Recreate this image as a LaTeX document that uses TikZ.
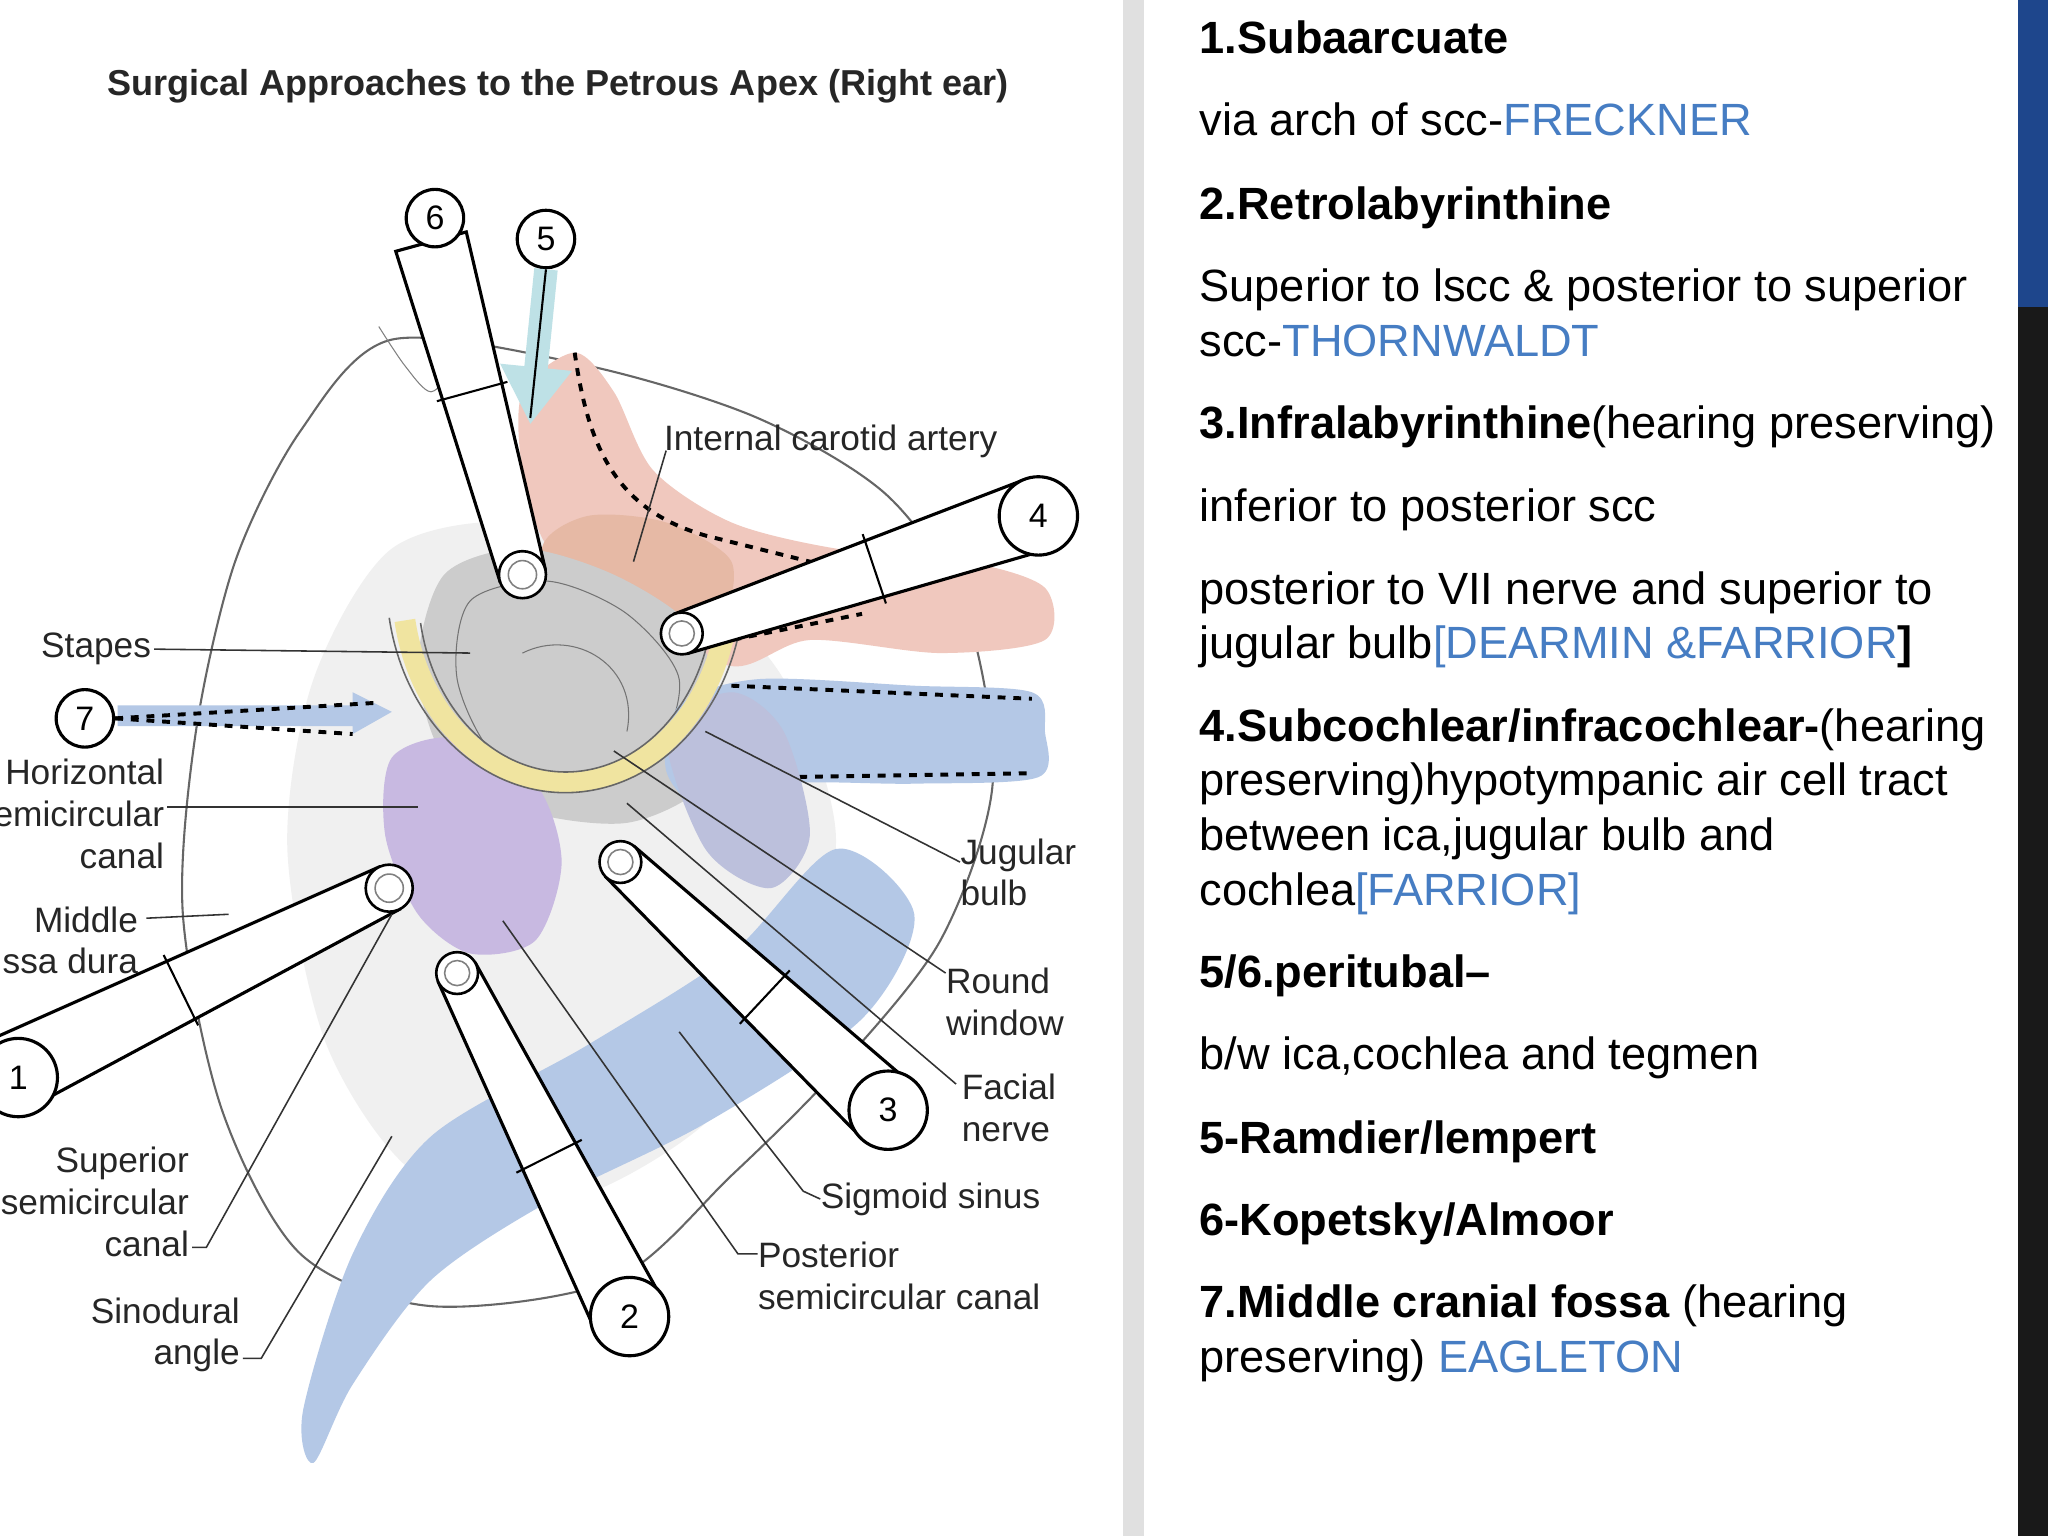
\documentclass[tikz,border=0pt]{standalone}
\usepackage{fontspec}
\setmainfont{Liberation Sans}
\usetikzlibrary{calc,arrows.meta}
\definecolor{lk}{RGB}{70,125,195}
\definecolor{pinkc}{RGB}{240,200,190}
\definecolor{lav}{RGB}{200,185,225}
\definecolor{bluec}{RGB}{180,200,230}
\definecolor{yel}{RGB}{240,228,160}
\definecolor{cyanc}{RGB}{190,225,230}
\definecolor{navy}{RGB}{30,70,140}
\tikzset{
 rt/.style={anchor=base west,font=\fontsize{17.3}{19}\selectfont,inner sep=0},
 rtb/.style={rt,font=\bfseries\fontsize{17.3}{19}\selectfont},
 lb/.style={font=\fontsize{13.5}{16}\selectfont,inner sep=1pt,text=black!85},
 num/.style={circle,draw,line width=1.2pt,fill=white,minimum size=22pt,inner sep=0,font=\fontsize{13}{14}\selectfont},
 probe/.style={draw,line width=1.2pt,fill=white},
 lead/.style={draw,line width=0.6pt,black!80},
}
\newcommand\myprobe[4]{% tip, end, halfwidth tip, halfwidth end
 \path[probe] ($(#1)!#3!90:(#2)$) -- ($(#2)!#4!-90:(#1)$) -- ($(#2)!#4!90:(#1)$) -- ($(#1)!#3!-90:(#2)$) -- cycle;
 \draw[line width=0.8pt] ($($(#1)!0.55!(#2)$)!#4!90:(#2)$) -- ($($(#1)!0.55!(#2)$)!#4!-90:(#2)$);
 \draw[line width=1pt,fill=white] (#1) circle[radius=#3];
 \draw[line width=0.6pt,black!50] (#1) circle[radius=#3*0.6];
}
\begin{document}
\begin{tikzpicture}[x=0.5pt,y=-0.5pt]
\useasboundingbox (0,0) rectangle (1568,1176);
\fill[white] (0,0) rectangle (1568,1176);
\fill[black!12] (860,0) rectangle (876,1176);
\fill[navy] (1545,0) rectangle (1568,235);
\fill[black!90] (1545,235) rectangle (1568,1176);

% title
\node[font=\bfseries\fontsize{13.8}{15}\selectfont,text=black!85] (title) at (427,66) {Surgical Approaches to the Petrous Apex (Right ear)};

% bone outline
\draw[black!60,line width=0.8pt] plot[smooth cycle] coordinates {(300,260) (230,330) (180,430) (150,560) (140,700) (170,850) (230,960) (330,1000) (470,980) (560,900) (640,820) (720,720) (760,600) (740,470) (680,380) (580,320) (450,280)};
\fill[black!6] plot[smooth cycle] coordinates {(300,420) (240,520) (220,650) (250,800) (320,900) (430,920) (540,860) (610,760) (640,640) (600,520) (520,440) (400,400)};
\draw[black!50] plot[smooth] coordinates {(290,250) (310,280) (330,300) (350,280)};
% pink ICA
\fill[pinkc] plot[smooth cycle] coordinates {(400,300) (440,270) (470,300) (500,360) (560,400) (640,420) (740,430) (800,450) (800,490) (720,500) (620,490) (560,510) (480,470) (420,420) (400,360)};
\fill[pinkc!80!brown] plot[smooth cycle] coordinates {(415,420) (450,395) (510,400) (560,430) (550,480) (500,500) (440,480)};
\draw[dashed,line width=1.5pt] (440,270) .. controls (450,340) and (470,390) .. (540,410) -- (660,440);
\draw[dashed,line width=1.5pt] (480,470) -- (560,490) -- (660,470);
% grey inner ear
\fill[black!20] plot[smooth cycle] coordinates {(340,440) (400,420) (470,440) (530,480) (550,540) (540,600) (480,630) (400,620) (340,580) (320,510)};
\draw[black!55] plot[smooth cycle] coordinates {(360,460) (420,445) (480,470) (520,520) (500,580) (440,600) (380,580) (350,520)};
\draw[black!55] (400,500) .. controls (440,480) and (490,510) .. (480,560);
% blue jugular
\fill[bluec] plot[smooth cycle] coordinates {(520,540) (580,520) (700,525) (790,530) (800,560) (795,595) (700,600) (600,600) (540,620) (510,590)};
\draw[dashed,line width=1.5pt] (560,525) -- (790,535);
\draw[dashed,line width=1.5pt] (600,595) -- (790,592);
\fill[bluec!70!blue!70!black!40] plot[smooth cycle] coordinates {(510,560) (560,530) (600,560) (620,640) (590,680) (540,650)};
% sigmoid sinus
\fill[bluec] plot[smooth cycle] coordinates {(640,650) (700,700) (660,780) (540,860) (420,920) (330,980) (270,1060) (240,1120) (232,1080) (270,960) (330,870) (450,800) (560,730)};
% lavender
\fill[lav] plot[smooth cycle] coordinates {(300,580) (350,565) (410,600) (430,660) (410,720) (360,730) (320,700) (295,640)};
% yellow arc
\draw[yel,line width=8pt] (310,475) arc[start angle=190,end angle=350,x radius=125,y radius=-150];
\draw[black!60,line width=0.6pt] (298,473) arc[start angle=190,end angle=350,x radius=137,y radius=-162];
\draw[black!60,line width=0.6pt] (322,477) arc[start angle=190,end angle=350,x radius=113,y radius=-138];

% arrow 5
\node[num] (n5) at (418,183) {5};
\draw[-{Triangle[width=26pt,length=22pt]},line width=9pt,cyanc] (n5.south) -- (406,325);
\draw[line width=0.8pt] (n5.south) -- (406,320);
% arrow 7
\node[num] (n7) at (65,550) {7};
\fill[bluec] (90,540) -- (270,540) -- (270,530) -- (300,545) -- (270,562) -- (270,556) -- (90,556) -- cycle;
\draw[dashed,line width=1.5pt] (n7.east) -- (290,538);
\draw[dashed,line width=1.5pt] (n7.east) -- (270,562);

% probes
\coordinate (t6) at (400,440); \coordinate (e6) at (330,185);
\coordinate (t4) at (522,485); \coordinate (e4) at (790,395);
\coordinate (t1) at (298,680); \coordinate (e1) at (8,822);
\coordinate (t2) at (350,745); \coordinate (e2) at (478,1000);
\coordinate (t3) at (475,660); \coordinate (e3) at (676,848);
\myprobe{t6}{e6}{9pt}{14pt}
\myprobe{t4}{e4}{8pt}{14pt}
\myprobe{t1}{e1}{9pt}{15pt}
\myprobe{t2}{e2}{8pt}{14pt}
\myprobe{t3}{e3}{8pt}{14pt}
\node[num] (n6) at (333,167) {6};
\node[num,minimum size=30pt] (n4) at (795,395) {4};
\node[num,minimum size=30pt] (n1) at (14,825) {1};
\node[num,minimum size=30pt] (n2) at (482,1008) {2};
\node[num,minimum size=30pt] (n3) at (680,850) {3};

% left labels
\node[lb,anchor=east] (stapes) at (118,497) {Stapes};
\coordinate (sp) at (360,500); \draw[lead] (stapes.east) -- (sp);
\node[lb,anchor=east,align=right] (hsc) at (128,623) {Horizontal\\emicircular\\canal};
\coordinate (hp) at (320,618); \draw[lead] (128,618) -- (hp);
\node[lb,anchor=east,align=right] (mfd) at (108,720) {Middle\\ssa dura};
\coordinate (mp) at (175,700); \draw[lead] (112,703) -- (mp);
\node[lb,anchor=east,align=right] (ssc) at (147,920) {Superior\\semicircular\\canal};
\coordinate (sscp) at (300,700); \draw[lead] (147,955) -- (158,955) -- (sscp);
\node[lb,anchor=east,align=right] (sda) at (186,1022) {Sinodural\\angle};
\coordinate (sdp) at (300,870); \draw[lead] (186,1040) -- (200,1040) -- (sdp);
% right labels
\node[lb,anchor=west] (ica) at (506,338) {Internal carotid artery};
\coordinate (icap) at (485,430); \draw[lead] (510,345) -- (icap);
\node[lb,anchor=west,align=left] (jb) at (733,668) {Jugular\\bulb};
\coordinate (jbp) at (540,560); \draw[lead] (735,660) -- (jbp);
\node[lb,anchor=west,align=left] (rw) at (722,767) {Round\\window};
\coordinate (rwp) at (470,575); \draw[lead] (724,745) -- (rwp);
\node[lb,anchor=west,align=left] (fn) at (734,848) {Facial\\nerve};
\coordinate (fnp) at (480,615); \draw[lead] (732,830) -- (fnp);
\node[lb,anchor=west] (ss) at (626,918) {Sigmoid sinus};
\coordinate (ssp) at (520,790); \draw[lead] (628,918) -- (615,912) -- (ssp);
\node[lb,anchor=west,align=left] (psc) at (578,977) {Posterior\\semicircular canal};
\coordinate (pscp) at (385,705); \draw[lead] (580,960) -- (565,960) -- (pscp);

% right text
\node[rtb] at (918,41) {1.Subaarcuate};
\node[rt] at (918,104) {via arch of scc-\textcolor{lk}{FRECKNER}};
\node[rtb] at (918,168) {2.Retrolabyrinthine};
\node[rt] at (918,231) {Superior to lscc \& posterior to superior};
\node[rt] at (918,273) {scc-\textcolor{lk}{THORNWALDT}};
\node[rt] at (918,336) {\textbf{3.Infralabyrinthine}(hearing preserving)};
\node[rt] at (918,399) {inferior to posterior scc};
\node[rt] at (918,463) {posterior to VII nerve and superior to};
\node[rt] at (918,504) {jugular bulb\textcolor{lk}{[DEARMIN \&FARRIOR}\textbf{]}};
\node[rt] at (918,568) {\textbf{4.Subcochlear/infracochlear-}(hearing};
\node[rt] at (918,609) {preserving)hypotympanic air cell tract};
\node[rt] at (918,651) {between ica,jugular bulb and};
\node[rt] at (918,693) {cochlea\textcolor{lk}{[FARRIOR]}};
\node[rtb] at (918,756) {5/6.peritubal–};
\node[rt] at (918,819) {b/w ica,cochlea and tegmen};
\node[rtb] at (918,883) {5-Ramdier/lempert};
\node[rtb] at (918,946) {6-Kopetsky/Almoor};
\node[rt] at (918,1009) {\textbf{7.Middle cranial fossa} (hearing};
\node[rt] at (918,1051) {preserving) \textcolor{lk}{EAGLETON}};
\end{tikzpicture}
\end{document}
